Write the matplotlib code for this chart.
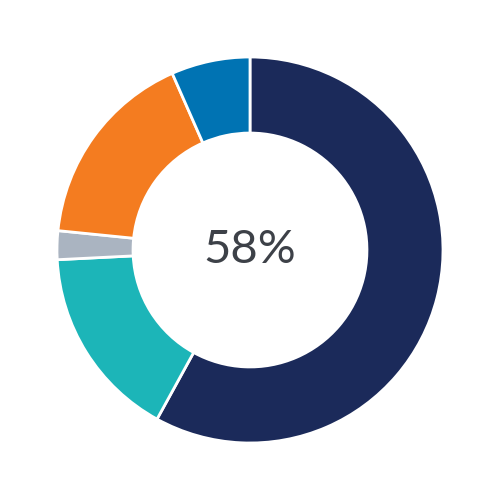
import matplotlib
matplotlib.use("Agg")
import matplotlib.pyplot as plt

# data
labels = ["Navy", "Teal", "Gray", "Orange", "Blue"]
shares = [58.0, 16.2, 2.4, 16.8, 6.6]
colors = ["#1b2a5a", "#1cb5b8", "#aab4c1", "#f47c20", "#0073b3"]
center_text = "58%"

fig = plt.figure(figsize=(5, 5), dpi=100)
ax = fig.add_axes([0, 0, 1, 1])

ax.pie(shares, colors=colors, startangle=90, counterclock=False, radius=1.0,
       wedgeprops={"width": 0.394, "edgecolor": "white", "linewidth": 2})
ax.text(0, 0, center_text, ha="center", va="center", fontsize=34,
        family="Lato", color="#3d4148")

lim = 250 / 193
ax.set_xlim(-lim, lim)
ax.set_ylim(-lim, lim)
ax.set_aspect("equal")
ax.axis("off")

fig.savefig("out.png", dpi=100, facecolor="white")
